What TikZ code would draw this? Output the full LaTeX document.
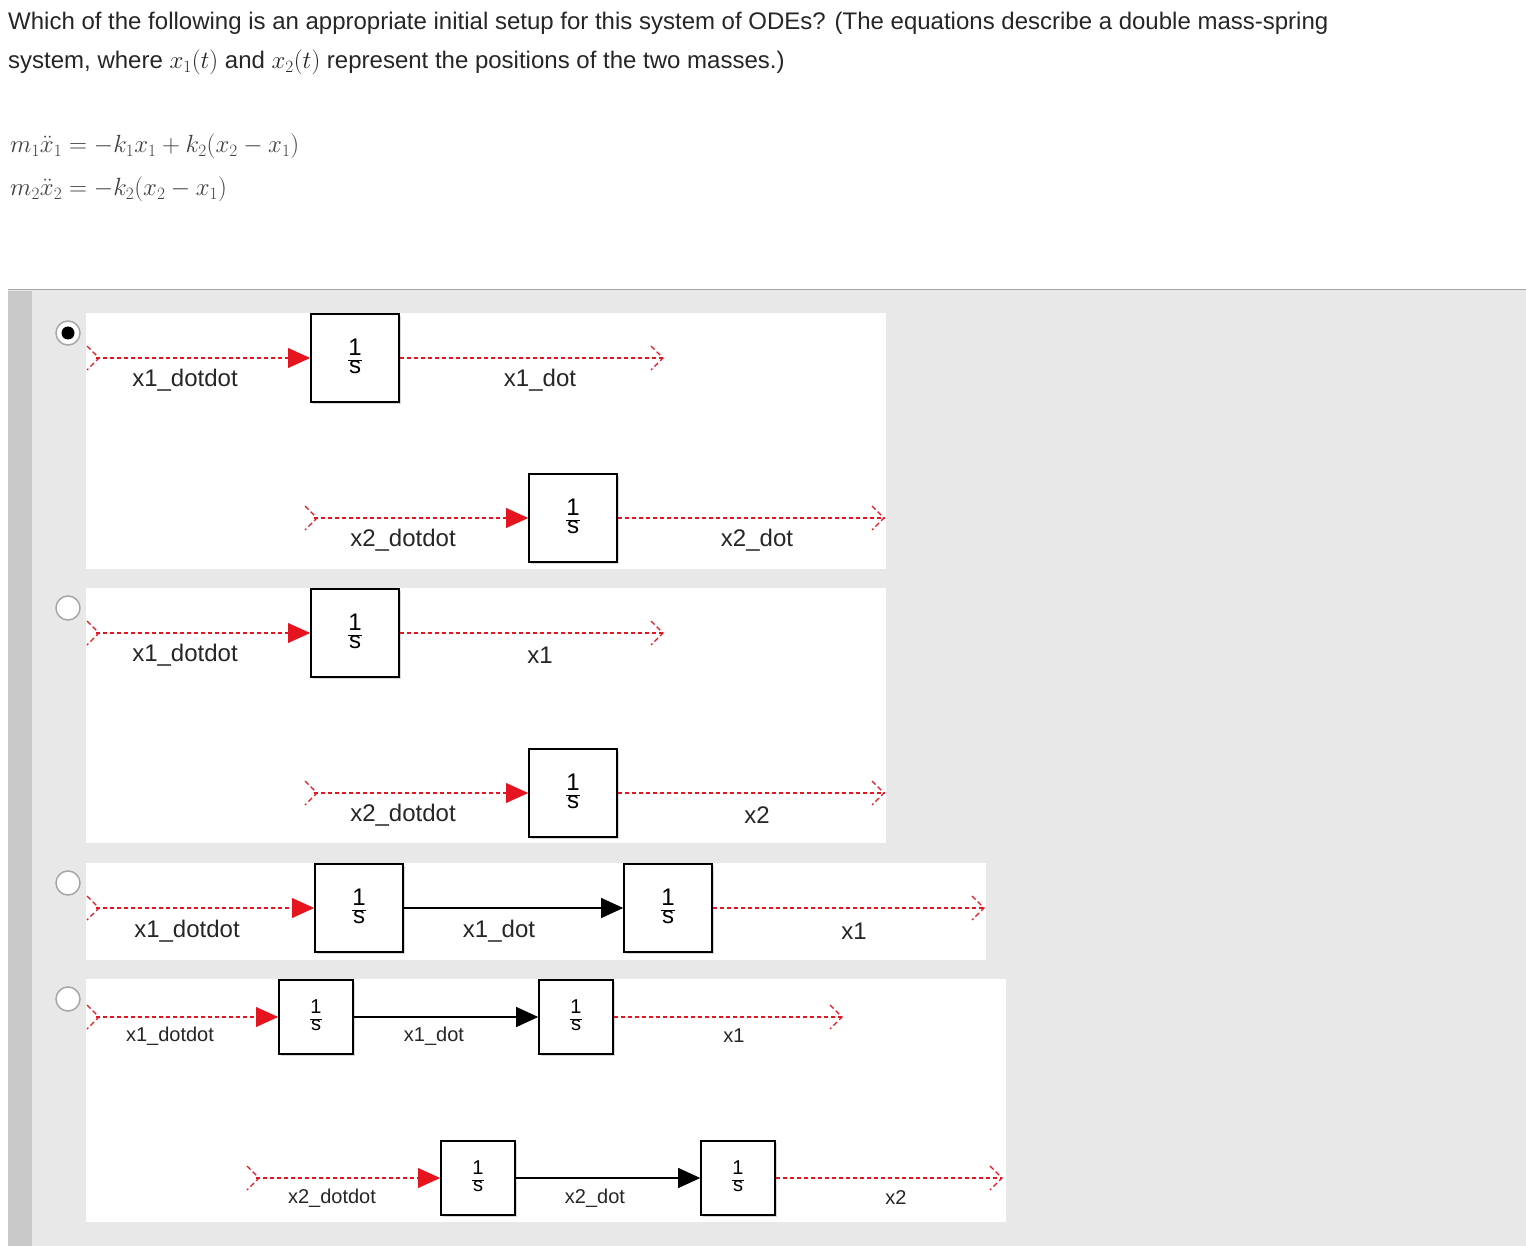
\documentclass[tikz,border=0pt]{standalone}
\usepackage{fontspec}
\setmainfont{Liberation Sans}
\usetikzlibrary{arrows.meta,shadows,calc}
\definecolor{sigred}{RGB}{230,20,30}
\definecolor{bggray}{RGB}{232,232,232}
\definecolor{stripe}{RGB}{200,200,200}
\tikzset{
  blk/.style={draw=black,line width=1.6pt,fill=white,minimum width=#1,minimum height=#1,inner sep=0pt,drop shadow={shadow xshift=2pt,shadow yshift=-2pt,opacity=0.3}},
  sig/.style={sigred,dashed,dash pattern=on 4pt off 3pt,line width=1.1pt},
  sigtip/.style={sig,-{Triangle[length=22pt,width=20pt,fill=sigred,color=sigred,line width=0pt]}},
  blktip/.style={black,line width=1.1pt,-{Triangle[length=22pt,width=20pt]}},
  glyph/.style={sigred,line width=1.3pt,dash pattern=on 5pt off 3pt},
  lbl/.style={font=\fontsize{24}{28}\selectfont,text=black!85},
  slbl/.style={font=\fontsize{20}{24}\selectfont,text=black!85},
  radio/.style={draw=gray!70,line width=1.5pt,fill=white,circle,minimum size=24pt,inner sep=0pt},
}
\newcommand{\onesbig}{\begin{tabular}{@{}c@{}}\fontsize{24}{24}\selectfont 1\\[-6pt]\rule{14pt}{1.2pt}\\[-4pt]\fontsize{24}{24}\selectfont s\end{tabular}}
\newcommand{\onessmall}{\begin{tabular}{@{}c@{}}\fontsize{20}{20}\selectfont 1\\[-6pt]\rule{12pt}{1.1pt}\\[-4pt]\fontsize{20}{20}\selectfont s\end{tabular}}
\newcommand{\sighead}[1]{\draw[glyph] ($(#1)+(-9,-12)$) -- ($(#1)+(3,0)$) -- ($(#1)+(-9,12)$);}
\newcommand{\sigtail}[1]{\draw[glyph] ($(#1)+(-12,-12)$) -- (#1) -- ($(#1)+(-12,12)$);}
\begin{document}
\begin{tikzpicture}[x=1pt,y=-1pt]
\useasboundingbox (0,0) rectangle (1526,1246);
\fill[white] (0,0) rectangle (1526,1246);
% text
\node[anchor=base west,inner sep=0pt,lbl] (q1) at (8,30) {Which of the following is an appropriate initial setup for this system of ODEs? (The equations describe a double mass-spring};
\node[anchor=base west,inner sep=0pt,lbl] (q2) at (8,69) {system, where $x_1(t)$ and $x_2(t)$ represent the positions of the two masses.)};
\node[anchor=base west,inner sep=0pt,font=\fontsize{25}{28}\selectfont,text=black!75] (e1) at (10,153) {$m_1\ddot{x}_1 = -k_1x_1 + k_2(x_2 - x_1)$};
\node[anchor=base west,inner sep=0pt,font=\fontsize{25}{28}\selectfont,text=black!75] (e2) at (10,196) {$m_2\ddot{x}_2 = -k_2(x_2 - x_1)$};
% backgrounds
\fill[bggray] (8,290) rectangle (1526,1246);
\draw[gray!70,line width=1pt] (8,290) -- (1526,290);
\fill[stripe] (8,291) rectangle (32,1246);
\fill[white] (86,313) rectangle (886,569);
\fill[white] (86,588) rectangle (886,843);
\fill[white] (86,863) rectangle (986,960);
\fill[white] (86,979) rectangle (1006,1222);
% radios
\node[radio] (r1) at (68,333) {};
\fill[black] (r1) circle (6.5);
\node[radio] (r2) at (68,608) {};
\node[radio] (r3) at (68,883) {};
\node[radio] (r4) at (68,999) {};
% panels 1 and 2
\foreach \dy/\la/\lb/\lc/\ld/\p in {0/x1\_dotdot/x1\_dot/x2\_dotdot/x2\_dot/a, 275/x1\_dotdot/x1/x2\_dotdot/x2/b}{
  \node[blk=88pt] (\p b1) at (355,358+\dy) {\onesbig};
  \node[blk=88pt] (\p b2) at (573,518+\dy) {\onesbig};
  \coordinate (\p s1) at (96,358+\dy);
  \coordinate (\p e1) at (663,358+\dy);
  \coordinate (\p s2) at (314,518+\dy);
  \coordinate (\p e2) at (884,518+\dy);
  \draw[sigtip] (\p s1) -- (\p b1.west);
  \draw[sig] (\p b1.east) -- (\p e1);
  \draw[sigtip] (\p s2) -- (\p b2.west);
  \draw[sig] (\p b2.east) -- (\p e2);
  \sighead{\p s1} \sigtail{\p e1} \sighead{\p s2} \sigtail{\p e2}
  \node[lbl] (\p l1) at (185,380+\dy) {\la};
  \node[lbl] (\p l2) at (540,380+\dy) {\lb};
  \node[lbl] (\p l3) at (403,540+\dy) {\lc};
  \node[lbl] (\p l4) at (757,540+\dy) {\ld};
}
% panel 3
\node[blk=88pt] (cb1) at (359,908) {\onesbig};
\node[blk=88pt] (cb2) at (668,908) {\onesbig};
\coordinate (cs) at (96,908);
\coordinate (ce) at (984,908);
\draw[sigtip] (cs) -- (cb1.west);
\draw[blktip] (cb1.east) -- (cb2.west);
\draw[sig] (cb2.east) -- (ce);
\sighead{cs} \sigtail{ce}
\node[lbl] (cl1) at (187,931) {x1\_dotdot};
\node[lbl] (cl2) at (499,931) {x1\_dot};
\node[lbl] (cl3) at (854,931) {x1};
% panel 4
\node[blk=74pt] (db1) at (316,1017) {\onessmall};
\node[blk=74pt] (db2) at (576,1017) {\onessmall};
\node[blk=74pt] (db3) at (478,1178) {\onessmall};
\node[blk=74pt] (db4) at (738,1178) {\onessmall};
\coordinate (ds1) at (96,1017);
\coordinate (de1) at (842,1017);
\coordinate (ds2) at (256,1178);
\coordinate (de2) at (1002,1178);
\draw[sigtip] (ds1) -- (db1.west);
\draw[blktip] (db1.east) -- (db2.west);
\draw[sig] (db2.east) -- (de1);
\draw[sigtip] (ds2) -- (db3.west);
\draw[blktip] (db3.east) -- (db4.west);
\draw[sig] (db4.east) -- (de2);
\sighead{ds1} \sigtail{de1} \sighead{ds2} \sigtail{de2}
\node[slbl] (dl1) at (170,1036) {x1\_dotdot};
\node[slbl] (dl2) at (434,1036) {x1\_dot};
\node[slbl] (dl3) at (734,1036) {x1};
\node[slbl] (dl4) at (332,1198) {x2\_dotdot};
\node[slbl] (dl5) at (595,1198) {x2\_dot};
\node[slbl] (dl6) at (896,1198) {x2};
\end{tikzpicture}
\end{document}
